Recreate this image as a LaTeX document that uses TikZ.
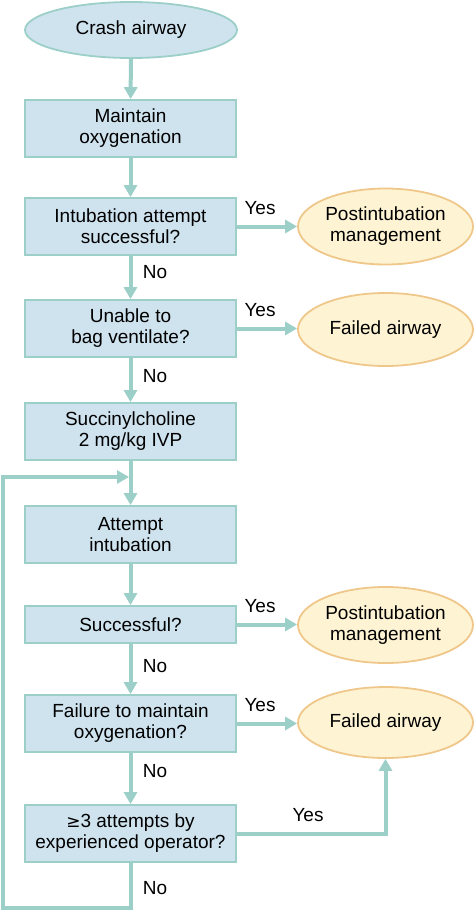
\documentclass[tikz,border=0pt]{standalone}
\usepackage{fontspec}
\setmainfont{Liberation Sans}
\usetikzlibrary{shapes.geometric,arrows.meta}
\definecolor{boxfill}{HTML}{CFE3EF}
\definecolor{teal}{HTML}{9CCFC8}
\definecolor{yfill}{HTML}{FEF4D4}
\definecolor{ydraw}{HTML}{F0C78A}
\tikzset{
  x=1pt, y=-1pt,
  txt/.style={font=\fontsize{19}{21}\selectfont, text=black},
  box/.style={txt, draw=teal, line width=1.8pt, fill=boxfill, rectangle, minimum width=211pt, minimum height=57pt, inner sep=0pt, align=center},
  startov/.style={txt, draw=teal, line width=1.8pt, fill=boxfill, ellipse, minimum width=212pt, minimum height=56pt, inner sep=0pt, align=center},
  endov/.style={txt, draw=ydraw, line width=1.8pt, fill=yfill, ellipse, minimum width=175pt, minimum height=76pt, inner sep=0pt, align=center},
  conn/.style={draw=teal, line width=4pt, line join=miter, -{Triangle[width=13pt,length=12pt]}},
  lbl/.style={txt, inner sep=0pt}
}
\begin{document}
\begin{tikzpicture}
\useasboundingbox (0,0) rectangle (474,911);
\node[startov] (crash) at (131,30) {Crash airway};
\node[box] (maint) at (130.5,128.5) {Maintain\\oxygenation};
\node[box] (q1) at (130.5,226.5) {Intubation attempt\\successful?};
\node[endov] (post1) at (385.5,226.5) {Postintubation\\management};
\node[box] (q2) at (130.5,328.5) {Unable to\\bag ventilate?};
\node[endov, minimum height=73pt] (fail1) at (385.5,329.5) {Failed airway};
\node[box] (succ) at (130.5,431.5) {Succinylcholine\\2 mg/kg IVP};
\node[box] (att) at (130.5,534.5) {Attempt\\intubation};
\node[box, minimum height=37pt] (q3) at (130.5,624.5) {Successful?};
\node[endov] (post2) at (385.5,625) {Postintubation\\management};
\node[box] (q4) at (130.5,723.5) {Failure to maintain\\oxygenation?};
\node[endov, minimum height=71pt] (fail2) at (385.5,722.5) {Failed airway};
\node[box] (q5) at (130.5,833.5) {{\fontspec{DejaVu Sans}\fontsize{17}{21}\selectfont ≥}3 attempts by\\experienced operator?};

\coordinate (lb) at (130.5,908);
\coordinate (lbl) at (3,908);
\coordinate (ltl) at (3,477);
\coordinate (join) at (129,477);

\draw[conn] (crash) -- (maint);
\draw[conn] (maint) -- (q1);
\draw[conn] (q1) -- (q2);
\draw[conn] (q1) -- (post1);
\draw[conn] (q2) -- (succ);
\draw[conn] (q2.east) -- (q2.east -| fail1.west);
\draw[conn] (succ) -- (att);
\draw[conn] (att) -- (q3);
\draw[conn] (q3.east) -- (q3.east -| post2.west);
\draw[conn] (q3) -- (q4);
\draw[conn] (q4.east) -- (q4.east -| fail2.west);
\draw[conn] (q4) -- (q5);
\draw[conn] (q5.east) -| (fail2.south);
\draw[conn] (q5.south) -- (lb) -- (lbl) -- (ltl) -- (join);

\node[lbl] (y1) at (260,208) {Yes};
\node[lbl] (n1) at (155,272) {No};
\node[lbl] (y2) at (260,310) {Yes};
\node[lbl] (n2) at (155,376) {No};
\node[lbl] (y3) at (260,606) {Yes};
\node[lbl] (n3) at (155,666) {No};
\node[lbl] (y4) at (260,705) {Yes};
\node[lbl] (n4) at (155,771) {No};
\node[lbl] (y5) at (308,815) {Yes};
\node[lbl] (n5) at (155,888) {No};
\end{tikzpicture}
\end{document}
